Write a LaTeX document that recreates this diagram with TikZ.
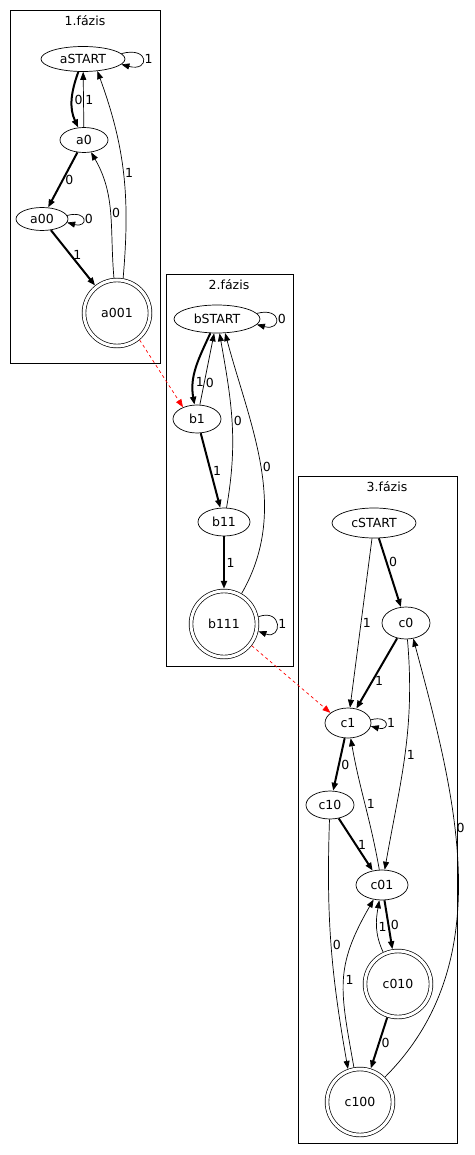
\documentclass[tikz,border=0pt]{standalone}
\usepackage{fontspec}
\setmainfont{DejaVu Sans}
\usetikzlibrary{shapes.geometric,arrows.meta}

\begin{document}
\begin{tikzpicture}[x=1pt,y=1pt,
		font=\fontsize{12.5}{14}\selectfont,
		allapot/.style={ellipse,draw,line width=0.7pt,inner sep=0pt},
		vegallapot/.style={circle,draw,double,line width=0.7pt,double distance=3pt,outer sep=2.2pt,minimum size=66pt,inner sep=0pt},
		el/.style={line width=0.7pt,-{Triangle[length=8pt,width=6pt]}},
		vastag/.style={el,line width=2pt},
		atmenet/.style={red,dashed,line width=0.7pt,-{Triangle[length=8pt,width=6pt]}},
		cimke/.style={inner sep=1.5pt},
		doboz/.style={line width=0.7pt}]
				\useasboundingbox (0,0) rectangle (474,-1155);
				
				\draw[doboz] (10,-10) rectangle (160,-363);
				\draw[doboz] (166,-274) rectangle (293,-666);
				\draw[doboz] (298,-476) rectangle (457,-1143);
				
				\node[cimke] (f1) at (85,-21) {1.fázis};
				\node[allapot,minimum width=84pt,minimum height=25pt] (aSTART) at (83,-59) {aSTART};
				\node[allapot,minimum width=48pt,minimum height=25pt] (a0) at (84,-140) {a0};
				\node[allapot,minimum width=52pt,minimum height=23pt] (a00) at (42,-219) {a00};
				\node[vegallapot] (a001) at (117,-313) {a001};
				
				\node[cimke] (f2) at (229,-285) {2.fázis};
				\node[allapot,minimum width=86pt,minimum height=28pt] (bSTART) at (217,-319) {bSTART};
				\node[allapot,minimum width=48pt,minimum height=28pt] (b1) at (197,-419) {b1};
				\node[allapot,minimum width=52pt,minimum height=28pt] (b11) at (224,-522) {b11};
				\node[vegallapot] (b111) at (224,-624) {b111};
				
				\node[cimke] (f3) at (387,-487) {3.fázis};
				\node[allapot,minimum width=84pt,minimum height=30pt] (cSTART) at (374,-523) {cSTART};
				\node[allapot,minimum width=48pt,minimum height=32pt] (c0) at (406,-623) {c0};
				\node[allapot,minimum width=46pt,minimum height=30pt] (c1) at (348,-723) {c1};
				\node[allapot,minimum width=48pt,minimum height=28pt] (c10) at (330,-805) {c10};
				\node[allapot,minimum width=52pt,minimum height=30pt] (c01) at (382,-885) {c01};
				\node[vegallapot] (c010) at (398,-984) {c010};
				\node[vegallapot] (c100) at (360,-1102) {c100};
				
				\draw[el] (aSTART.8) to[out=15,in=-15,looseness=7] node[cimke,right]{1} (aSTART.-8);
				\draw[vastag] (aSTART) to[out=250,in=115] node[cimke,right]{0} (a0);
				\draw[el] (a0) -- node[cimke,right]{1} (aSTART);
				\draw[vastag] (a0) -- node[cimke,right]{0} (a00);
				\draw[el] (a00.8) to[out=15,in=-15,looseness=8] node[cimke,right]{0} (a00.-8);
				\draw[vastag] (a00) -- node[cimke,right,pos=.45]{1} (a001);
				\draw[el] (a001) to[out=95,in=-60] node[cimke,right]{0} (a0);
				\draw[el] (a001.80) to[out=85,in=-70] node[cimke,right]{1} (aSTART.-40);
				
				\draw[atmenet] (a001.-50) -- (b1.140);
				
				\draw[el] (bSTART.8) to[out=15,in=-15,looseness=6] node[cimke,right]{0} (bSTART.-8);
				\draw[vastag] (bSTART) to[out=245,in=100] node[cimke,right,pos=.7]{1} (b1);
				\draw[el] (b1) -- node[cimke,right,pos=.3]{0} (bSTART);
				\draw[vastag] (b1) -- node[cimke,right]{1} (b11);
				\draw[el] (b11) to[out=80,in=-80] node[cimke,right]{0} (bSTART);
				\draw[vastag] (b11) -- node[cimke,right]{1} (b111);
				\draw[el] (b111) to[out=60,in=-75,looseness=.95] node[cimke,right]{0} (bSTART.-60);
				\draw[el] (b111.12) to[out=20,in=-20,looseness=4.5] node[cimke,right]{1} (b111.-12);
				
				\draw[atmenet] (b111.-38) -- (c1.150);
				
				\draw[vastag] (cSTART) -- node[cimke,right,pos=.35]{0} (c0);
				\draw[el] (cSTART) -- node[cimke,right]{1} (c1);
				\draw[vastag] (c0) -- node[cimke,right,pos=.6]{1} (c1);
				\draw[el] (c1.8) to[out=15,in=-15,looseness=8] node[cimke,right]{1} (c1.-8);
				\draw[vastag] (c1) -- node[cimke,right]{0} (c10);
				\draw[el] (c0) to[out=-85,in=80] node[cimke,right]{1} (c01);
				\draw[el] (c01) to[out=100,in=-80] node[cimke,right]{1} (c1);
				\draw[vastag] (c10) -- node[cimke,right]{1} (c01);
				\draw[el] (c10) to[out=-92,in=100] node[cimke,right]{0} (c100.110);
				\draw[vastag] (c01) -- node[cimke,right]{0} (c010);
				\draw[el] (c010) to[out=115,in=-100] node[cimke,right]{1} (c01);
				\draw[el] (c100.100) to[out=100,in=-120,looseness=1.2] node[cimke,right]{1} (c01);
				\draw[vastag] (c010) -- node[cimke,right]{0} (c100);
				\draw[el] (c100) to[out=45,in=-75,looseness=.95] node[cimke,right,pos=.6]{0} (c0.-65);
			\end{tikzpicture}
\end{document}
